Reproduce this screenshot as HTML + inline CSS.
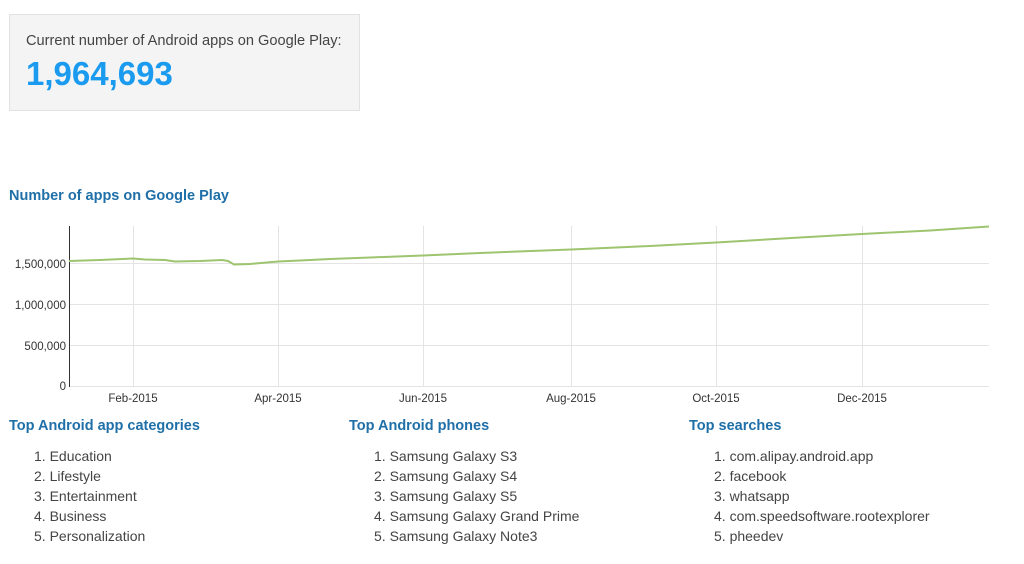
<!DOCTYPE html>
<html><head><style>
body{margin:0;width:1024px;height:564px;background:#fff;font-family:"Liberation Sans",sans-serif;position:relative;overflow:hidden}
.box{position:absolute;left:9px;top:14px;width:349px;height:95px;background:#f4f4f4;border:1px solid #e2e2e2}
.box .t{position:absolute;left:16px;top:18px;font-size:14.6px;color:#444}
.box .n{position:absolute;left:16px;top:40px;font-size:33px;font-weight:bold;color:#1a9bf0}
h3{position:absolute;margin:0;font-size:14.5px;font-weight:bold;color:#1f6fa8}
ol{position:absolute;margin:0;padding-left:0;list-style:none;font-size:14px;color:#444;line-height:20px}
</style></head><body>
<div class="box"><div class="t">Current number of Android apps on Google Play:</div><div class="n">1,964,693</div></div>
<h3 style="left:9px;top:188px">Number of apps on Google Play</h3>
<svg style="position:absolute;left:0;top:0" width="1024" height="564">
<g stroke="#e4e4e4" stroke-width="1">
<line x1="69" y1="263.5" x2="989" y2="263.5"/><line x1="69" y1="304.5" x2="989" y2="304.5"/><line x1="69" y1="345.5" x2="989" y2="345.5"/><line x1="69" y1="386.5" x2="989" y2="386.5"/>
<line x1="133.5" y1="226" x2="133.5" y2="386"/><line x1="278.5" y1="226" x2="278.5" y2="386"/><line x1="423.5" y1="226" x2="423.5" y2="386"/><line x1="571.5" y1="226" x2="571.5" y2="386"/><line x1="716.5" y1="226" x2="716.5" y2="386"/><line x1="862.5" y1="226" x2="862.5" y2="386"/>
</g>
<line x1="69.5" y1="226" x2="69.5" y2="387" stroke="#333"/>
<polyline fill="none" stroke="#9dc46e" stroke-width="2" points="69,261 100,260 133,258.5 145,259.5 165,260 175,261.5 200,261 222,260 228,261 234,264.5 250,264 278,261.5 300,260.5 330,259 370,257.5 423,255.5 480,253 571,249.5 650,246 716,242.5 800,237.5 862,234 930,230.5 989,226.5"/>
<g font-size="11.5" fill="#333" text-anchor="end">
<text x="66" y="268">1,500,000</text><text x="66" y="309">1,000,000</text><text x="66" y="350">500,000</text><text x="66" y="390">0</text>
</g>
<g font-size="11.5" fill="#333" text-anchor="middle">
<text x="133" y="402">Feb-2015</text><text x="278" y="402">Apr-2015</text><text x="423" y="402">Jun-2015</text><text x="571" y="402">Aug-2015</text><text x="716" y="402">Oct-2015</text><text x="862" y="402">Dec-2015</text>
</g>
</svg>
<h3 style="left:9px;top:418px">Top Android app categories</h3>
<ol style="left:34px;top:446px"><li>1. Education</li><li>2. Lifestyle</li><li>3. Entertainment</li><li>4. Business</li><li>5. Personalization</li></ol>
<h3 style="left:349px;top:418px">Top Android phones</h3>
<ol style="left:374px;top:446px"><li>1. Samsung Galaxy S3</li><li>2. Samsung Galaxy S4</li><li>3. Samsung Galaxy S5</li><li>4. Samsung Galaxy Grand Prime</li><li>5. Samsung Galaxy Note3</li></ol>
<h3 style="left:689px;top:418px">Top searches</h3>
<ol style="left:714px;top:446px"><li>1. com.alipay.android.app</li><li>2. facebook</li><li>3. whatsapp</li><li>4. com.speedsoftware.rootexplorer</li><li>5. pheedev</li></ol>
</body></html>
